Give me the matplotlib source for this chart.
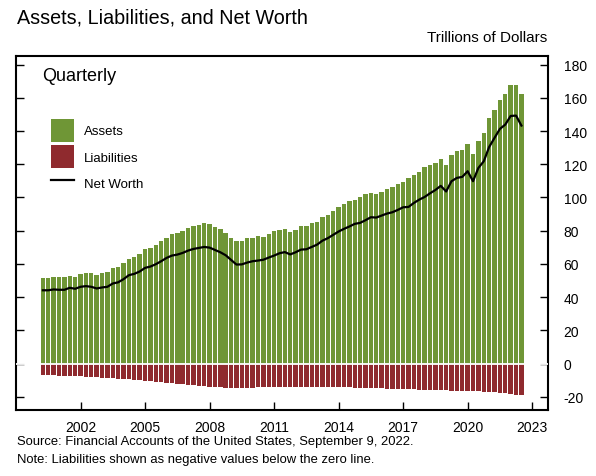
import matplotlib
matplotlib.use("Agg")
import matplotlib.pyplot as plt
from matplotlib.patches import Patch
from matplotlib.lines import Line2D
import numpy as np

# Quarterly data, 2000Q1 - 2022Q2 (trillions of dollars)
start_year = 2000
assets = [
    51.2, 51.2, 52.0, 52.0, 52.0, 53.0, 52.3, 54.0, 54.8, 54.4, 53.4, 54.6,
    55.0, 57.4, 58.4, 60.8, 63.2, 64.4, 66.2, 68.8, 69.8, 71.4, 73.6, 75.6,
    77.7, 78.3, 79.7, 81.5, 82.9, 83.7, 84.7, 84.3, 82.3, 80.8, 78.9, 75.3,
    73.7, 74.0, 75.3, 75.8, 76.7, 76.2, 78.2, 79.6, 80.7, 81.1,
    79.3, 80.6, 82.6, 82.6, 84.6, 85.5, 88.2, 89.5, 92.0, 94.2, 95.9, 98.0,
    98.6, 100.2, 102.2, 102.9, 101.9, 103.5,
    105.1, 106.3, 108.3, 109.1, 111.6, 113.4, 115.4, 118.2, 119.4, 120.8,
    123.2, 119.4, 125.6, 128.1, 128.7, 132.5, 126.4, 134.3, 138.9, 147.7,
    152.7, 158.9, 162.4, 167.8, 167.8, 162.1,
]
liabilities = [
    7.0, 7.1, 7.2, 7.3, 7.4, 7.5, 7.7, 7.8, 8.0, 8.2, 8.3, 8.5,
    8.7, 8.9, 9.2, 9.4, 9.6, 9.9, 10.1, 10.4, 10.6, 10.9, 11.2, 11.5,
    11.8, 12.1, 12.4, 12.7, 13.0, 13.3, 13.6, 13.9, 14.2, 14.4, 14.5, 14.6,
    14.6, 14.6, 14.5, 14.5, 14.4, 14.4, 14.3, 14.3, 14.2, 14.2, 14.1, 14.1,
    14.1, 14.1, 14.1, 14.1, 14.2, 14.2, 14.3, 14.3, 14.4, 14.4, 14.5, 14.6,
    14.7, 14.8, 14.9, 15.0, 15.1, 15.2, 15.3, 15.4, 15.5, 15.6, 15.7, 15.8,
    15.9, 16.0, 16.1, 16.2, 16.3, 16.4, 16.5, 16.6, 16.7, 16.8, 16.9, 17.1,
    17.3, 17.6, 17.9, 18.3, 18.7, 19.1,
]
net_worth = [
    44.1, 44.1, 44.6, 44.4, 44.4, 45.6, 45.0, 46.2, 46.6, 46.2, 45.2, 45.8,
    46.2, 48.2, 48.9, 50.8, 53.2, 54.0, 55.4, 57.6, 58.4, 59.8, 61.6, 63.6,
    65.0, 65.6, 66.6, 68.0, 69.0, 69.6, 70.2, 69.8, 68.4, 67.0, 65.2, 62.4,
    59.6, 59.7, 60.8, 61.6, 62.0, 62.5, 63.8, 65.0, 66.4, 67.1,
    65.7, 67.0, 68.6, 68.8, 70.2, 71.6, 74.0, 75.5, 77.5, 79.5, 81.1, 82.5,
    84.1, 84.7, 86.3, 88.1, 87.9, 89.1,
    90.3, 91.1, 92.5, 94.1, 94.3, 96.7, 98.7, 100.3, 102.5, 104.5,
    107.0, 103.6, 109.8, 111.8, 112.4, 115.8, 109.8, 117.8, 121.8, 130.4,
    135.9, 141.3, 143.9, 149.1, 149.3, 143.3,
]
x_ticks = [2002, 2005, 2008, 2011, 2014, 2017, 2020, 2023]
y_ticks = [-20, 0, 20, 40, 60, 80, 100, 120, 140, 160, 180]

GREEN = "#6f9636"
RED = "#8f2a2e"

plt.rcParams["font.family"] = ["Liberation Sans", "DejaVu Sans"]

W, H = 596, 477
fig = plt.figure(figsize=(W / 100, H / 100), dpi=100)
ax_l, ax_r, ax_t, ax_b = 16, 548.3, 57, 411
ax = fig.add_axes([ax_l / W, 1 - ax_b / H, (ax_r - ax_l) / W, (ax_b - ax_t) / H])

n = len(assets)
x = start_year + 0.25 * (np.arange(n) + 1)
neg_liab = [-v for v in liabilities]

ax.bar(x, assets, width=0.205, color=GREEN, linewidth=0, zorder=2)
ax.bar(x, neg_liab, width=0.205, color=RED, linewidth=0, zorder=2)
ax.axhline(0, color="white", lw=1.3, zorder=3)
ax.plot(x, net_worth, color="black", lw=1.6, zorder=4)

ax.set_xlim(1999.0, 2023.75)
ax.set_ylim(-28.0, 185.2)
ax.set_xticks(x_ticks)
ax.set_xticklabels([str(t) for t in x_ticks])
ax.set_yticks(y_ticks)
ax.set_yticklabels([str(t) for t in y_ticks])

ax.tick_params(axis="y", which="both", left=True, right=True,
               labelleft=False, labelright=True, direction="in",
               length=6, width=1.0, pad=11, labelsize=10)
ax.tick_params(axis="x", direction="in", length=6, width=1.0, pad=7,
               labelsize=10, top=False)
for lab in ax.get_yticklabels():
    lab.set_horizontalalignment("left")
for sp in ax.spines.values():
    sp.set_linewidth(1.5)

handles = [
    Patch(facecolor=GREEN, edgecolor="none", label="Assets"),
    Patch(facecolor=RED, edgecolor="none", label="Liabilities"),
    Line2D([0], [0], color="black", lw=1.6, label="Net Worth"),
]
leg = ax.legend(handles=handles, loc="upper left",
                bbox_to_anchor=(50.7 / W, 1 - 120 / H),
                bbox_transform=fig.transFigure, frameon=False,
                fontsize=9.5, handlelength=1.8, handleheight=2.25,
                handletextpad=0.7, labelspacing=0.3, borderpad=0,
                borderaxespad=0)

fig.text(42.5 / W, 1 - 81 / H, "Quarterly", fontsize=13, va="baseline", ha="left")
fig.text(17 / W, 1 - 23 / H, "Assets, Liabilities, and Net Worth",
         fontsize=14.2, va="baseline", ha="left")
fig.text(547 / W, 1 - 42 / H, "Trillions of Dollars", fontsize=11,
         va="baseline", ha="right")
fig.text(17 / W, 1 - 445 / H,
         "Source: Financial Accounts of the United States, September 9, 2022.",
         fontsize=9.4, va="baseline", ha="left")
fig.text(17 / W, 1 - 463 / H,
         "Note: Liabilities shown as negative values below the zero line.",
         fontsize=9.4, va="baseline", ha="left")

fig.savefig("out.png", dpi=100)
